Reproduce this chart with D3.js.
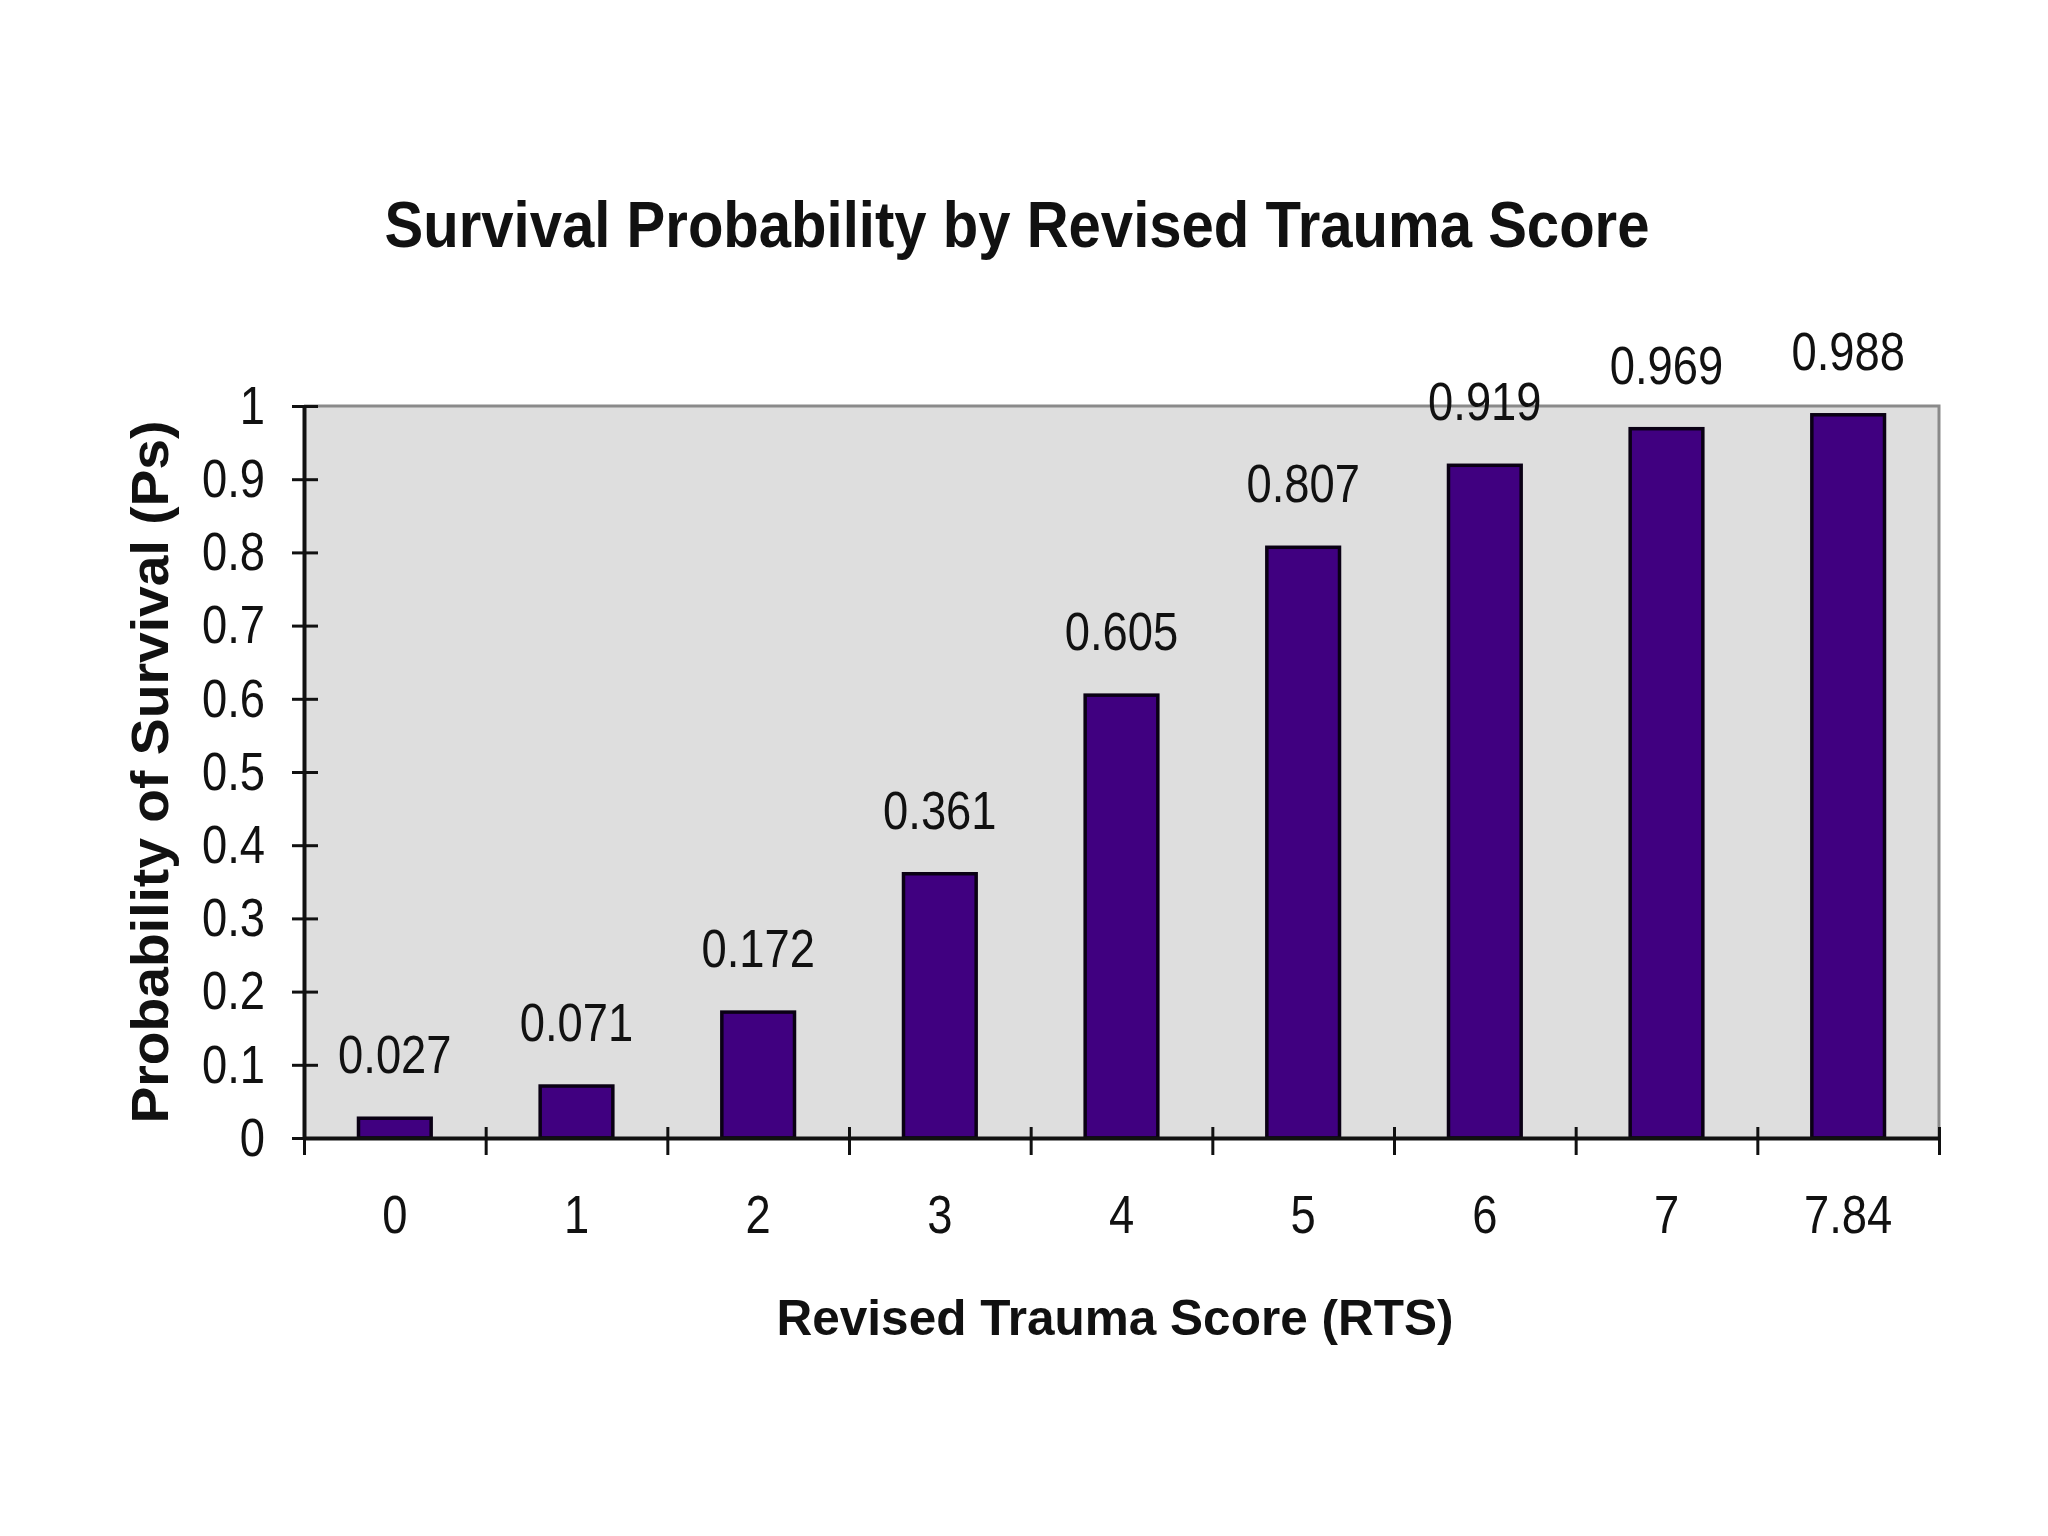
<!DOCTYPE html>
<html>
<head>
<meta charset="utf-8">
<script src="https://cdn.jsdelivr.net/npm/d3@7/dist/d3.min.js"></script>
<style>
  body { margin: 0; background: #fff; }
  svg { display: block; }
</style>
</head>
<body>
<div class="container"></div>
<script>
// Data
const scores = ["0", "1", "2", "3", "4", "5", "6", "7", "7.84"];
const survival = [0.027, 0.071, 0.172, 0.361, 0.605, 0.807, 0.919, 0.969, 0.988];
const yTicks = [0, 0.1, 0.2, 0.3, 0.4, 0.5, 0.6, 0.7, 0.8, 0.9, 1];

const chartTitle = "Survival Probability by Revised Trauma Score";
const xTitle = "Revised Trauma Score (RTS)";
const yTitle = "Probability of Survival (Ps)";

const width = 2048;
const height = 1536;
const margin = { top: 406, right: 109, bottom: 398, left: 304 };
const plotW = width - margin.left - margin.right;
const plotH = height - margin.top - margin.bottom;

const numFont = "'Liberation Sans', Arial, sans-serif";
const boldFont = "'Liberation Sans', Arial, sans-serif";
const narrow = 0.84; // the original uses a condensed face

const svg = d3.select(".container")
    .append("svg")
    .attr("width", width)
    .attr("height", height);

// Squeeze number labels horizontally to mimic the narrow font.
function condense(sel) {
    sel.each(function () {
        const w = this.getComputedTextLength();
        d3.select(this)
            .attr("textLength", w * narrow)
            .attr("lengthAdjust", "spacingAndGlyphs");
    });
}

// Scales
const x = d3.scaleBand().domain(scores).range([0, plotW]).padding(0);
const xEdge = d3.scaleLinear().domain([0, scores.length]).range([0, plotW]);
const y = d3.scaleLinear().domain([0, 1]).range([plotH, 0]);

const g = svg.append("g").attr("transform", `translate(${margin.left},${margin.top})`);

// Plot area background and gray frame (top and right)
g.append("rect")
    .attr("x", 0).attr("y", 0)
    .attr("width", plotW).attr("height", plotH)
    .attr("fill", "#dedede");
g.append("path")
    .attr("d", `M0,0H${plotW}V${plotH}`)
    .attr("fill", "none")
    .attr("stroke", "#8a8a8a")
    .attr("stroke-width", 3);

// Bars
const barFrac = 0.4;
g.append("g")
    .selectAll("rect")
    .data(survival)
    .enter()
    .append("rect")
    .attr("x", (d, i) => x(scores[i]) + x.bandwidth() * (1 - barFrac) / 2)
    .attr("width", x.bandwidth() * barFrac)
    .attr("y", d => y(d))
    .attr("height", d => y(0) - y(d))
    .attr("fill", "#400080")
    .attr("stroke", "#0a0014")
    .attr("stroke-width", 3.5);

// Y axis
const yAxis = g.append("g")
    .call(d3.axisLeft(y)
        .tickValues(yTicks)
        .tickFormat(d => String(+d.toFixed(1)))
        .tickSizeInner(12)
        .tickSizeOuter(0)
        .tickPadding(27));
yAxis.select(".domain").attr("stroke", "#111").attr("stroke-width", 4);
yAxis.selectAll(".tick line").attr("x1", 14).attr("stroke", "#111").attr("stroke-width", 3);
yAxis.selectAll(".tick text")
    .attr("fill", "#111")
    .style("font-family", numFont)
    .style("font-size", "54px")
    .call(condense);

// X axis: boundary ticks
const xTickAxis = g.append("g")
    .attr("transform", `translate(0,${plotH})`)
    .call(d3.axisBottom(xEdge)
        .tickValues(d3.range(scores.length + 1))
        .tickFormat("")
        .tickSizeInner(17)
        .tickSizeOuter(0));
xTickAxis.select(".domain").attr("stroke", "#111").attr("stroke-width", 4);
xTickAxis.selectAll(".tick line").attr("y1", -11).attr("stroke", "#111").attr("stroke-width", 3);

// X axis: category labels centred in each band
const xLabelAxis = g.append("g")
    .attr("transform", `translate(0,${plotH})`)
    .call(d3.axisBottom(x).tickSize(0).tickPadding(57));
xLabelAxis.select(".domain").remove();
xLabelAxis.selectAll(".tick text")
    .attr("fill", "#111")
    .style("font-family", numFont)
    .style("font-size", "54px")
    .call(condense);

// Data labels
g.append("g")
    .selectAll("text")
    .data(survival)
    .enter()
    .append("text")
    .attr("x", (d, i) => x(scores[i]) + x.bandwidth() / 2)
    .attr("y", d => y(d) - 45)
    .attr("text-anchor", "middle")
    .attr("fill", "#111")
    .style("font-family", numFont)
    .style("font-size", "54px")
    .text(d => d)
    .call(condense);

// Titles
svg.append("text")
    .attr("x", 1017)
    .attr("y", 247)
    .attr("text-anchor", "middle")
    .attr("textLength", 1265)
    .attr("lengthAdjust", "spacingAndGlyphs")
    .style("font-family", boldFont)
    .style("font-weight", "bold")
    .style("font-size", "64px")
    .attr("fill", "#111")
    .text(chartTitle);

svg.append("text")
    .attr("x", 1115)
    .attr("y", 1335)
    .attr("text-anchor", "middle")
    .attr("textLength", 677)
    .attr("lengthAdjust", "spacingAndGlyphs")
    .style("font-family", boldFont)
    .style("font-weight", "bold")
    .style("font-size", "50px")
    .attr("fill", "#111")
    .text(xTitle);

svg.append("text")
    .attr("transform", "translate(168,772) rotate(-90)")
    .attr("text-anchor", "middle")
    .attr("textLength", 703)
    .attr("lengthAdjust", "spacingAndGlyphs")
    .style("font-family", boldFont)
    .style("font-weight", "bold")
    .style("font-size", "51px")
    .attr("fill", "#111")
    .text(yTitle);
</script>
</body>
</html>
